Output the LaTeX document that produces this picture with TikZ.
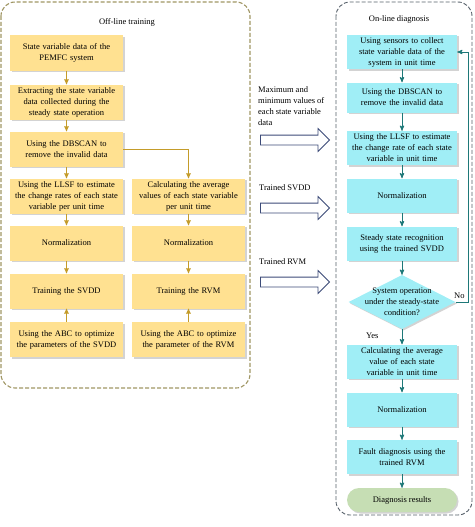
\documentclass[tikz,border=0pt]{standalone}
\usepackage{fontspec}
\setmainfont{Liberation Serif}
\usetikzlibrary{arrows}
\usetikzlibrary{shapes.geometric}
\usetikzlibrary{shapes.arrows}
\usetikzlibrary{shadows}
\definecolor{trainfill}{RGB}{255,225,145}
\definecolor{diagfill}{RGB}{160,238,246}
\definecolor{resfill}{RGB}{198,222,180}
\definecolor{trainline}{RGB}{196,156,42}
\definecolor{diagline}{RGB}{30,120,120}
\definecolor{trainframe}{RGB}{160,150,100}
\definecolor{diagframe}{RGB}{85,95,105}
\definecolor{bigarrow}{RGB}{60,75,120}
\tikzset{
  stepnode/.style = {align=center, inner sep=1pt, text centered,
    font=\fontsize{8.5}{11}\selectfont},
  train_n/.style = {stepnode, rectangle, fill=trainfill, minimum width=113pt,
    minimum height=35pt, text width=110pt,
    drop shadow={shadow xshift=1.5pt, shadow yshift=-1.5pt, opacity=0.35}},% off-line box
  diag_n/.style = {stepnode, rectangle, fill=diagfill, minimum width=110pt,
    minimum height=34pt, text width=108pt,
    drop shadow={shadow xshift=1.5pt, shadow yshift=-1.5pt, opacity=0.35}},% on-line box
  check_n/.style = {diamond, fill=diagfill, aspect=2, inner sep=0pt,
    minimum width=107pt, minimum height=54pt,
    drop shadow={shadow xshift=1.5pt, shadow yshift=-1.5pt, opacity=0.35}},% decision
  result_n/.style = {stepnode, rounded corners=12pt, fill=resfill,
    minimum width=110pt, minimum height=24pt,
    drop shadow={shadow xshift=1.5pt, shadow yshift=-1.5pt, opacity=0.35}},% end
  frame_n/.style = {dash pattern=on 4pt off 2pt, rounded corners=14pt, line width=1.1pt},
  label_n/.style = {stepnode, align=left, inner sep=0pt},
  big_arrow/.style = {single arrow, draw=bigarrow, fill=white, line width=0.8pt,
    minimum height=69pt, minimum width=22pt, inner xsep=0pt, inner ysep=4.5pt,
    single arrow head extend=6.5pt},
  train_e/.style = {->, >=stealth', draw=trainline, line width=0.9pt},
  diag_e/.style = {->, >=stealth', draw=diagline, line width=0.9pt},
}

\begin{document}
\begin{tikzpicture}[x=1pt,y=-1pt]
\useasboundingbox (0,0) rectangle (474,527);

% frames
\draw[frame_n, trainframe] (1,2) rectangle (250,388);
\draw[frame_n, diagframe, line width=0.9pt] (336,2) rectangle (472,515);
\node[stepnode] (offtitle) at (127,22) {Off-line training};
\node[stepnode] (ontitle) at (399,19) {On-line diagnosis};

% off-line training
\node[train_n] (b1) at (66.5,53) {State variable data of the\\PEMFC system};
\node[train_n] (b2) at (66.5,102) {Extracting the state variable\\data collected during the\\steady state operation};
\node[train_n] (b3) at (66.5,149) {Using the DBSCAN to\\remove the invalid data};
\node[train_n] (b4) at (66.5,196) {Using the LLSF to estimate\\the change rates of each state\\variable per unit time};
\node[train_n] (b5) at (66.5,243) {Normalization};
\node[train_n] (b6) at (66.5,291) {Training the SVDD};
\node[train_n] (b7) at (66.5,339.5) {Using the ABC to optimize\\the parameters of the SVDD};
\node[train_n] (c4) at (188.5,196) {Calculating the average\\values of each state variable\\per unit time};
\node[train_n] (c5) at (188.5,243) {Normalization};
\node[train_n] (c6) at (188.5,291) {Training the RVM};
\node[train_n] (c7) at (188.5,339.5) {Using the ABC to optimize\\the parameter of the RVM};

\draw[train_e] (b1) -- (b2);
\draw[train_e] (b2) -- (b3);
\draw[train_e] (b3) -- (b4);
\draw[train_e] (b4) -- (b5);
\draw[train_e] (b5) -- (b6);
\draw[train_e] (b7) -- (b6);
\draw[train_e] (b3.east) -| (c4.north);
\draw[train_e] (c4) -- (c5);
\draw[train_e] (c5) -- (c6);
\draw[train_e] (c7) -- (c6);

% passed on to the diagnosis
\node[label_n, anchor=north west] (maxmin) at (258,86) {Maximum and\\minimum values of\\each state variable\\data};
\node[big_arrow] (a1) at (292.5,140) {};
\node[label_n, anchor=west] (svddtxt) at (259,188) {Trained SVDD};
\node[big_arrow] (a2) at (292.5,208) {};
\node[label_n, anchor=west] (rvmtxt) at (259,262) {Trained RVM};
\node[big_arrow] (a3) at (292.5,282) {};

% on-line diagnosis
\node[diag_n] (r1) at (402,52) {Using sensors to collect\\state variable data of the\\system in unit time};
\node[diag_n, minimum height=30pt] (r2) at (402,97.5) {Using the DBSCAN to\\remove the invalid data};
\node[diag_n] (r3) at (402,148) {Using the LLSF to estimate\\the change rate of each state\\variable in unit time};
\node[diag_n] (r4) at (402,195.5) {Normalization};
\node[diag_n] (r5) at (402,243.5) {Steady state recognition\\using the trained SVDD};
\node[check_n] (check) at (402,302) {};
\node[stepnode] (checktxt) at (check) {System operation\\under the steady-state\\condition?};
\node[diag_n] (r6) at (402,361.5) {Calculating the average\\value of each state\\variable in unit time};
\node[diag_n] (r7) at (402,409.5) {Normalization};
\node[diag_n] (r8) at (402,457) {Fault diagnosis using the\\trained RVM};
\node[result_n] (res) at (402,500) {Diagnosis results};

\draw[diag_e] (r1) -- (r2);
\draw[diag_e] (r2) -- (r3);
\draw[diag_e] (r3) -- (r4);
\draw[diag_e] (r4) -- (r5);
\draw[diag_e] (r5) -- (check);
\draw[diag_e] (check.south) -- node[stepnode, pos=0.45, left=22pt] {Yes} (r6);
\draw[diag_e] (check.east) -- (468,302) node[stepnode, anchor=south east, inner sep=3pt] {No} |- (r1.east);
\draw[diag_e] (r6) -- (r7);
\draw[diag_e] (r7) -- (r8);
\draw[diag_e] (r8) -- (res);
\end{tikzpicture}
\end{document}
